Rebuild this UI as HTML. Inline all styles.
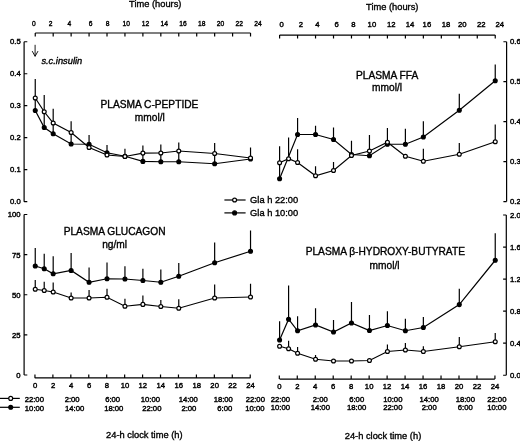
<!DOCTYPE html>
<html><head><meta charset="utf-8"><title>Plasma profiles</title>
<style>
html,body{margin:0;padding:0;background:#fff}
svg{display:block}
text{font-family:"Liberation Sans",Arial,sans-serif;fill:#000;stroke:#000;stroke-width:0.35px}
.tk text{stroke-width:0.42px}
</style></head><body>
<svg width="520" height="441" viewBox="0 0 520 441">
<rect width="520" height="441" fill="#fff"/>
<g stroke="#000" stroke-width="1.2" stroke-linecap="butt">
<line x1="35.25" y1="110.50" x2="35.25" y2="99.00"/>
<line x1="44.22" y1="127.50" x2="44.22" y2="112.75"/>
<line x1="53.19" y1="133.75" x2="53.19" y2="124.00"/>
<line x1="71.13" y1="144.00" x2="71.13" y2="133.50"/>
<line x1="142.89" y1="161.40" x2="142.89" y2="154.10"/>
<line x1="160.83" y1="161.75" x2="160.83" y2="154.00"/>
<line x1="178.77" y1="161.75" x2="178.77" y2="152.00"/>
<line x1="214.65" y1="163.75" x2="214.65" y2="154.50"/>
<polyline fill="none" points="35.25,110.50 44.22,127.50 53.19,133.75 71.13,144.00 89.07,144.25 107.01,152.75 124.95,156.25 142.89,161.40 160.83,161.75 178.77,161.75 214.65,163.75 250.53,159.00"/>
<circle cx="35.25" cy="110.50" r="1.95" fill="#000"/>
<circle cx="44.22" cy="127.50" r="1.95" fill="#000"/>
<circle cx="53.19" cy="133.75" r="1.95" fill="#000"/>
<circle cx="71.13" cy="144.00" r="1.95" fill="#000"/>
<circle cx="89.07" cy="144.25" r="1.95" fill="#000"/>
<circle cx="107.01" cy="152.75" r="1.95" fill="#000"/>
<circle cx="124.95" cy="156.25" r="1.95" fill="#000"/>
<circle cx="142.89" cy="161.40" r="1.95" fill="#000"/>
<circle cx="160.83" cy="161.75" r="1.95" fill="#000"/>
<circle cx="178.77" cy="161.75" r="1.95" fill="#000"/>
<circle cx="214.65" cy="163.75" r="1.95" fill="#000"/>
<circle cx="250.53" cy="159.00" r="1.95" fill="#000"/>
<line x1="35.25" y1="98.00" x2="35.25" y2="79.00"/>
<line x1="44.22" y1="111.75" x2="44.22" y2="95.00"/>
<line x1="53.19" y1="123.00" x2="53.19" y2="108.75"/>
<line x1="71.13" y1="132.50" x2="71.13" y2="121.25"/>
<line x1="89.07" y1="147.50" x2="89.07" y2="135.00"/>
<line x1="107.01" y1="155.00" x2="107.01" y2="145.00"/>
<line x1="124.95" y1="156.50" x2="124.95" y2="148.75"/>
<line x1="142.89" y1="153.10" x2="142.89" y2="145.50"/>
<line x1="160.83" y1="153.00" x2="160.83" y2="144.50"/>
<line x1="178.77" y1="151.00" x2="178.77" y2="142.50"/>
<line x1="214.65" y1="153.50" x2="214.65" y2="143.00"/>
<line x1="250.53" y1="158.00" x2="250.53" y2="147.50"/>
<polyline fill="none" points="35.25,98.00 44.22,111.75 53.19,123.00 71.13,132.50 89.07,147.50 107.01,155.00 124.95,156.50 142.89,153.10 160.83,153.00 178.77,151.00 214.65,153.50 250.53,158.00"/>
<circle cx="35.25" cy="98.00" r="1.95" fill="#fff"/>
<circle cx="44.22" cy="111.75" r="1.95" fill="#fff"/>
<circle cx="53.19" cy="123.00" r="1.95" fill="#fff"/>
<circle cx="71.13" cy="132.50" r="1.95" fill="#fff"/>
<circle cx="89.07" cy="147.50" r="1.95" fill="#fff"/>
<circle cx="107.01" cy="155.00" r="1.95" fill="#fff"/>
<circle cx="124.95" cy="156.50" r="1.95" fill="#fff"/>
<circle cx="142.89" cy="153.10" r="1.95" fill="#fff"/>
<circle cx="160.83" cy="153.00" r="1.95" fill="#fff"/>
<circle cx="178.77" cy="151.00" r="1.95" fill="#fff"/>
<circle cx="214.65" cy="153.50" r="1.95" fill="#fff"/>
<circle cx="250.53" cy="158.00" r="1.95" fill="#fff"/>
<line x1="35.25" y1="266.00" x2="35.25" y2="248.00"/>
<line x1="44.22" y1="268.75" x2="44.22" y2="253.75"/>
<line x1="53.19" y1="273.75" x2="53.19" y2="256.25"/>
<line x1="71.13" y1="270.50" x2="71.13" y2="253.00"/>
<line x1="89.07" y1="282.25" x2="89.07" y2="267.50"/>
<line x1="107.01" y1="278.75" x2="107.01" y2="262.50"/>
<line x1="124.95" y1="279.00" x2="124.95" y2="266.25"/>
<line x1="142.89" y1="280.50" x2="142.89" y2="268.75"/>
<line x1="160.83" y1="282.25" x2="160.83" y2="269.50"/>
<line x1="178.77" y1="276.25" x2="178.77" y2="263.00"/>
<line x1="214.65" y1="262.75" x2="214.65" y2="242.50"/>
<line x1="250.53" y1="251.25" x2="250.53" y2="230.50"/>
<polyline fill="none" points="35.25,266.00 44.22,268.75 53.19,273.75 71.13,270.50 89.07,282.25 107.01,278.75 124.95,279.00 142.89,280.50 160.83,282.25 178.77,276.25 214.65,262.75 250.53,251.25"/>
<circle cx="35.25" cy="266.00" r="1.95" fill="#000"/>
<circle cx="44.22" cy="268.75" r="1.95" fill="#000"/>
<circle cx="53.19" cy="273.75" r="1.95" fill="#000"/>
<circle cx="71.13" cy="270.50" r="1.95" fill="#000"/>
<circle cx="89.07" cy="282.25" r="1.95" fill="#000"/>
<circle cx="107.01" cy="278.75" r="1.95" fill="#000"/>
<circle cx="124.95" cy="279.00" r="1.95" fill="#000"/>
<circle cx="142.89" cy="280.50" r="1.95" fill="#000"/>
<circle cx="160.83" cy="282.25" r="1.95" fill="#000"/>
<circle cx="178.77" cy="276.25" r="1.95" fill="#000"/>
<circle cx="214.65" cy="262.75" r="1.95" fill="#000"/>
<circle cx="250.53" cy="251.25" r="1.95" fill="#000"/>
<line x1="35.25" y1="289.25" x2="35.25" y2="280.00"/>
<line x1="44.22" y1="290.50" x2="44.22" y2="281.75"/>
<line x1="53.19" y1="292.00" x2="53.19" y2="282.50"/>
<line x1="71.13" y1="298.00" x2="71.13" y2="292.50"/>
<line x1="89.07" y1="298.00" x2="89.07" y2="290.00"/>
<line x1="107.01" y1="297.25" x2="107.01" y2="288.75"/>
<line x1="124.95" y1="306.25" x2="124.95" y2="298.75"/>
<line x1="142.89" y1="304.40" x2="142.89" y2="295.60"/>
<line x1="160.83" y1="306.50" x2="160.83" y2="300.00"/>
<line x1="178.77" y1="308.25" x2="178.77" y2="299.25"/>
<line x1="214.65" y1="298.00" x2="214.65" y2="284.50"/>
<line x1="250.53" y1="297.00" x2="250.53" y2="283.75"/>
<polyline fill="none" points="35.25,289.25 44.22,290.50 53.19,292.00 71.13,298.00 89.07,298.00 107.01,297.25 124.95,306.25 142.89,304.40 160.83,306.50 178.77,308.25 214.65,298.00 250.53,297.00"/>
<circle cx="35.25" cy="289.25" r="1.95" fill="#fff"/>
<circle cx="44.22" cy="290.50" r="1.95" fill="#fff"/>
<circle cx="53.19" cy="292.00" r="1.95" fill="#fff"/>
<circle cx="71.13" cy="298.00" r="1.95" fill="#fff"/>
<circle cx="89.07" cy="298.00" r="1.95" fill="#fff"/>
<circle cx="107.01" cy="297.25" r="1.95" fill="#fff"/>
<circle cx="124.95" cy="306.25" r="1.95" fill="#fff"/>
<circle cx="142.89" cy="304.40" r="1.95" fill="#fff"/>
<circle cx="160.83" cy="306.50" r="1.95" fill="#fff"/>
<circle cx="178.77" cy="308.25" r="1.95" fill="#fff"/>
<circle cx="214.65" cy="298.00" r="1.95" fill="#fff"/>
<circle cx="250.53" cy="297.00" r="1.95" fill="#fff"/>
<line x1="279.60" y1="178.75" x2="279.60" y2="163.00"/>
<line x1="297.57" y1="134.50" x2="297.57" y2="118.00"/>
<line x1="315.54" y1="134.50" x2="315.54" y2="125.75"/>
<line x1="333.51" y1="139.50" x2="333.51" y2="127.50"/>
<line x1="351.48" y1="154.50" x2="351.48" y2="140.75"/>
<line x1="369.45" y1="155.75" x2="369.45" y2="135.00"/>
<line x1="387.42" y1="144.25" x2="387.42" y2="128.00"/>
<line x1="405.39" y1="144.25" x2="405.39" y2="128.75"/>
<line x1="423.36" y1="137.00" x2="423.36" y2="121.25"/>
<line x1="459.30" y1="110.25" x2="459.30" y2="93.75"/>
<line x1="495.24" y1="80.75" x2="495.24" y2="64.50"/>
<polyline fill="none" points="279.60,178.75 297.57,134.50 315.54,134.50 333.51,139.50 351.48,154.50 369.45,155.75 387.42,144.25 405.39,144.25 423.36,137.00 459.30,110.25 495.24,80.75"/>
<circle cx="279.60" cy="178.75" r="1.95" fill="#000"/>
<circle cx="297.57" cy="134.50" r="1.95" fill="#000"/>
<circle cx="315.54" cy="134.50" r="1.95" fill="#000"/>
<circle cx="333.51" cy="139.50" r="1.95" fill="#000"/>
<circle cx="351.48" cy="154.50" r="1.95" fill="#000"/>
<circle cx="369.45" cy="155.75" r="1.95" fill="#000"/>
<circle cx="387.42" cy="144.25" r="1.95" fill="#000"/>
<circle cx="405.39" cy="144.25" r="1.95" fill="#000"/>
<circle cx="423.36" cy="137.00" r="1.95" fill="#000"/>
<circle cx="459.30" cy="110.25" r="1.95" fill="#000"/>
<circle cx="495.24" cy="80.75" r="1.95" fill="#000"/>
<line x1="279.60" y1="162.75" x2="279.60" y2="146.25"/>
<line x1="288.59" y1="158.75" x2="288.59" y2="137.50"/>
<line x1="297.57" y1="162.50" x2="297.57" y2="149.25"/>
<line x1="315.54" y1="175.75" x2="315.54" y2="166.25"/>
<line x1="333.51" y1="170.50" x2="333.51" y2="162.00"/>
<line x1="423.36" y1="161.25" x2="423.36" y2="148.75"/>
<line x1="459.30" y1="154.25" x2="459.30" y2="143.00"/>
<line x1="495.24" y1="141.75" x2="495.24" y2="124.50"/>
<polyline fill="none" points="279.60,162.75 288.59,158.75 297.57,162.50 315.54,175.75 333.51,170.50 351.48,155.50 369.45,151.00 387.42,142.25 405.39,156.25 423.36,161.25 459.30,154.25 495.24,141.75"/>
<circle cx="279.60" cy="162.75" r="1.95" fill="#fff"/>
<circle cx="288.59" cy="158.75" r="1.95" fill="#fff"/>
<circle cx="297.57" cy="162.50" r="1.95" fill="#fff"/>
<circle cx="315.54" cy="175.75" r="1.95" fill="#fff"/>
<circle cx="333.51" cy="170.50" r="1.95" fill="#fff"/>
<circle cx="351.48" cy="155.50" r="1.95" fill="#fff"/>
<circle cx="369.45" cy="151.00" r="1.95" fill="#fff"/>
<circle cx="387.42" cy="142.25" r="1.95" fill="#fff"/>
<circle cx="405.39" cy="156.25" r="1.95" fill="#fff"/>
<circle cx="423.36" cy="161.25" r="1.95" fill="#fff"/>
<circle cx="459.30" cy="154.25" r="1.95" fill="#fff"/>
<circle cx="495.24" cy="141.75" r="1.95" fill="#fff"/>
<line x1="279.60" y1="340.00" x2="279.60" y2="321.25"/>
<line x1="288.59" y1="319.25" x2="288.59" y2="285.50"/>
<line x1="297.57" y1="330.75" x2="297.57" y2="316.25"/>
<line x1="315.54" y1="325.00" x2="315.54" y2="308.25"/>
<line x1="333.51" y1="332.00" x2="333.51" y2="320.00"/>
<line x1="351.48" y1="323.00" x2="351.48" y2="302.00"/>
<line x1="369.45" y1="330.50" x2="369.45" y2="315.00"/>
<line x1="387.42" y1="325.50" x2="387.42" y2="311.25"/>
<line x1="405.39" y1="330.75" x2="405.39" y2="318.75"/>
<line x1="423.36" y1="327.50" x2="423.36" y2="317.00"/>
<line x1="459.30" y1="304.60" x2="459.30" y2="288.75"/>
<line x1="495.24" y1="260.25" x2="495.24" y2="233.25"/>
<polyline fill="none" points="279.60,340.00 288.59,319.25 297.57,330.75 315.54,325.00 333.51,332.00 351.48,323.00 369.45,330.50 387.42,325.50 405.39,330.75 423.36,327.50 459.30,304.60 495.24,260.25"/>
<circle cx="279.60" cy="340.00" r="1.95" fill="#000"/>
<circle cx="288.59" cy="319.25" r="1.95" fill="#000"/>
<circle cx="297.57" cy="330.75" r="1.95" fill="#000"/>
<circle cx="315.54" cy="325.00" r="1.95" fill="#000"/>
<circle cx="333.51" cy="332.00" r="1.95" fill="#000"/>
<circle cx="351.48" cy="323.00" r="1.95" fill="#000"/>
<circle cx="369.45" cy="330.50" r="1.95" fill="#000"/>
<circle cx="387.42" cy="325.50" r="1.95" fill="#000"/>
<circle cx="405.39" cy="330.75" r="1.95" fill="#000"/>
<circle cx="423.36" cy="327.50" r="1.95" fill="#000"/>
<circle cx="459.30" cy="304.60" r="1.95" fill="#000"/>
<circle cx="495.24" cy="260.25" r="1.95" fill="#000"/>
<line x1="288.59" y1="348.75" x2="288.59" y2="340.75"/>
<line x1="297.57" y1="353.25" x2="297.57" y2="347.00"/>
<line x1="315.54" y1="359.25" x2="315.54" y2="355.00"/>
<line x1="387.42" y1="351.50" x2="387.42" y2="344.50"/>
<line x1="405.39" y1="350.00" x2="405.39" y2="343.00"/>
<line x1="423.36" y1="351.50" x2="423.36" y2="346.25"/>
<line x1="459.30" y1="346.75" x2="459.30" y2="337.00"/>
<line x1="495.24" y1="341.75" x2="495.24" y2="333.00"/>
<polyline fill="none" points="279.60,346.25 288.59,348.75 297.57,353.25 315.54,359.25 333.51,361.00 351.48,361.00 369.45,360.50 387.42,351.50 405.39,350.00 423.36,351.50 459.30,346.75 495.24,341.75"/>
<circle cx="279.60" cy="346.25" r="1.95" fill="#fff"/>
<circle cx="288.59" cy="348.75" r="1.95" fill="#fff"/>
<circle cx="297.57" cy="353.25" r="1.95" fill="#fff"/>
<circle cx="315.54" cy="359.25" r="1.95" fill="#fff"/>
<circle cx="333.51" cy="361.00" r="1.95" fill="#fff"/>
<circle cx="351.48" cy="361.00" r="1.95" fill="#fff"/>
<circle cx="369.45" cy="360.50" r="1.95" fill="#fff"/>
<circle cx="387.42" cy="351.50" r="1.95" fill="#fff"/>
<circle cx="405.39" cy="350.00" r="1.95" fill="#fff"/>
<circle cx="423.36" cy="351.50" r="1.95" fill="#fff"/>
<circle cx="459.30" cy="346.75" r="1.95" fill="#fff"/>
<circle cx="495.24" cy="341.75" r="1.95" fill="#fff"/>
<path fill="none" d="M35.25 33.0H250.53M35.25 33.0v3.4M53.19 33.0v3.4M71.13 33.0v3.4M89.07 33.0v3.4M107.01 33.0v3.4M124.95 33.0v3.4M142.89 33.0v3.4M160.83 33.0v3.4M178.77 33.0v3.4M196.71 33.0v3.4M214.65 33.0v3.4M232.59 33.0v3.4M250.53 33.0v3.4"/>
<path fill="none" d="M279.60 35.1H495.24M279.60 35.1v3.4M297.57 35.1v3.4M315.54 35.1v3.4M333.51 35.1v3.4M351.48 35.1v3.4M369.45 35.1v3.4M387.42 35.1v3.4M405.39 35.1v3.4M423.36 35.1v3.4M441.33 35.1v3.4M459.30 35.1v3.4M477.27 35.1v3.4M495.24 35.1v3.4"/>
<path fill="none" d="M34.75 377.9H250.53M34.95 377.9v-3.4M52.89 377.9v-3.4M70.83 377.9v-3.4M88.77 377.9v-3.4M106.71 377.9v-3.4M124.65 377.9v-3.4M142.59 377.9v-3.4M160.53 377.9v-3.4M178.47 377.9v-3.4M196.41 377.9v-3.4M214.35 377.9v-3.4M232.29 377.9v-3.4M250.23 377.9v-3.4"/>
<path fill="none" d="M279.60 379.1H494.84M279.30 379.1v-3.6M297.27 379.1v-3.6M315.24 379.1v-3.6M333.21 379.1v-3.6M351.18 379.1v-3.6M369.15 379.1v-3.6M387.12 379.1v-3.6M405.09 379.1v-3.6M423.06 379.1v-3.6M441.03 379.1v-3.6M459.00 379.1v-3.6M476.97 379.1v-3.6M494.94 379.1v-3.6"/>
<path fill="none" d="M24.1 41.75V201.65M24.1 41.75h3.2M24.1 73.73h3.2M24.1 105.71000000000001h3.2M24.1 137.69h3.2M24.1 169.67000000000002h3.2M24.1 201.65h3.2"/>
<path fill="none" d="M24.1 214.5V375.0M24.1 214.5h3.2M24.1 254.625h3.2M24.1 294.75h3.2M24.1 334.875h3.2M24.1 375.0h3.2"/>
<path fill="none" d="M506.6 41.75V201.55M506.6 41.75h-3.2M506.6 81.7h-3.2M506.6 121.65h-3.2M506.6 161.60000000000002h-3.2M506.6 201.55h-3.2"/>
<path fill="none" d="M506.3 215.0V375.25M506.3 215.0h-3.2M506.3 247.05h-3.2M506.3 279.1h-3.2M506.3 311.15h-3.2M506.3 343.2h-3.2M506.3 375.25h-3.2"/>
<path fill="none" stroke-width="0.9" d="M35.1 44.8V56.3 M32.2 51.1L35.1 56.3L38 51.1"/>
<line x1="224.4" y1="200" x2="245.6" y2="200"/><circle cx="234.6" cy="200" r="1.95" fill="#fff"/>
<line x1="224.4" y1="212.9" x2="245.6" y2="212.9"/><circle cx="234.6" cy="212.9" r="1.95" fill="#000"/>
<line x1="0" y1="398.4" x2="19.8" y2="398.4"/><circle cx="10.7" cy="398.4" r="1.95" fill="#fff"/>
<line x1="0" y1="407.3" x2="19.8" y2="407.3"/><circle cx="10.7" cy="407.3" r="1.95" fill="#000"/>
</g>
<g font-size="7.7" class="tk" text-anchor="middle">
<text transform="translate(33.75 25.8) scale(0.87 1)">0</text>
<text x="281.70" y="27">0</text>
<text x="35.25" y="388.4">0</text>
<text x="279.30" y="389.3">0</text>
<text transform="translate(50.50 25.8) scale(0.87 1)">2</text>
<text x="300.90" y="27">2</text>
<text x="53.19" y="388.4">2</text>
<text x="297.27" y="389.3">2</text>
<text transform="translate(69.25 25.8) scale(0.87 1)">4</text>
<text x="317.50" y="27">4</text>
<text x="71.13" y="388.4">4</text>
<text x="315.24" y="389.3">4</text>
<text transform="translate(90.50 25.8) scale(0.87 1)">6</text>
<text x="336.70" y="27">6</text>
<text x="89.07" y="388.4">6</text>
<text x="333.21" y="389.3">6</text>
<text transform="translate(107.50 25.8) scale(0.87 1)">8</text>
<text x="353.50" y="27">8</text>
<text x="107.01" y="388.4">8</text>
<text x="351.18" y="389.3">8</text>
<text transform="translate(126.25 25.8) scale(0.87 1)">10</text>
<text x="371.90" y="27">10</text>
<text x="124.95" y="388.4">10</text>
<text x="369.15" y="389.3">10</text>
<text transform="translate(145.50 25.8) scale(0.87 1)">12</text>
<text x="391.20" y="27">12</text>
<text x="142.89" y="388.4">12</text>
<text x="387.12" y="389.3">12</text>
<text transform="translate(164.25 25.8) scale(0.87 1)">14</text>
<text x="410.00" y="27">14</text>
<text x="160.83" y="388.4">14</text>
<text x="405.09" y="389.3">14</text>
<text transform="translate(183.00 25.8) scale(0.87 1)">16</text>
<text x="426.90" y="27">16</text>
<text x="178.77" y="388.4">16</text>
<text x="423.06" y="389.3">16</text>
<text transform="translate(201.75 25.8) scale(0.87 1)">18</text>
<text x="446.00" y="27">18</text>
<text x="196.71" y="388.4">18</text>
<text x="441.03" y="389.3">18</text>
<text transform="translate(220.50 25.8) scale(0.87 1)">20</text>
<text x="462.30" y="27">20</text>
<text x="214.65" y="388.4">20</text>
<text x="459.00" y="389.3">20</text>
<text transform="translate(239.25 25.8) scale(0.87 1)">22</text>
<text x="481.20" y="27">22</text>
<text x="232.59" y="388.4">22</text>
<text x="476.97" y="389.3">22</text>
<text transform="translate(258.00 25.8) scale(0.87 1)">24</text>
<text x="499.80" y="27">24</text>
<text x="250.53" y="388.4">24</text>
<text x="494.94" y="389.3">24</text>
</g>
<g font-size="7.7" class="tk" text-anchor="start">
<text x="24.70" y="402.1">22:00</text>
<text x="64.70" y="402.1">2:00</text>
<text x="105.20" y="402.1">6:00</text>
<text x="140.75" y="402.1">10:00</text>
<text x="178.65" y="402.1">14:00</text>
<text x="213.65" y="402.1">18:00</text>
<text x="245.70" y="402.1">22:00</text>
<text x="24.85" y="411">10:00</text>
<text x="65.05" y="411">14:00</text>
<text x="104.15" y="411">18:00</text>
<text x="142.20" y="411">22:00</text>
<text x="181.40" y="411">2:00</text>
<text x="217.30" y="411">6:00</text>
<text x="245.25" y="411">10:00</text>
</g>
<g font-size="7.7" class="tk" text-anchor="end">
<text x="20.7" y="44.05">0.5</text>
<text x="20.7" y="76.03">0.4</text>
<text x="20.7" y="108.01">0.3</text>
<text x="20.7" y="139.99">0.2</text>
<text x="20.7" y="171.97">0.1</text>
<text x="20.7" y="203.95">0.0</text>
<text x="20.6" y="217.40">100</text>
<text x="20.6" y="257.52">75</text>
<text x="20.6" y="297.65">50</text>
<text x="20.6" y="337.77">25</text>
<text x="20.6" y="377.90">0</text>
</g>
<g font-size="7.7" class="tk" text-anchor="start">
<text x="510.1" y="44.35">0.6</text>
<text x="510.1" y="84.30">0.5</text>
<text x="510.1" y="124.25">0.4</text>
<text x="510.1" y="164.20">0.3</text>
<text x="510.1" y="204.15">0.2</text>
<text x="510.1" y="217.60">2.0</text>
<text x="510.1" y="249.65">1.6</text>
<text x="510.1" y="281.70">1.2</text>
<text x="510.1" y="313.75">0.8</text>
<text x="510.1" y="345.80">0.4</text>
<text x="510.1" y="377.85">0.0</text>
</g>
<g font-size="9.3" text-anchor="middle">
<text x="155.3" y="7">Time (hours)</text>
<text x="392.3" y="10.4">Time (hours)</text>
<text x="144.3" y="438.3">24-h clock time (h)</text>
<text x="383" y="438.5">24-h clock time (h)</text>
</g>
<g font-size="10.2" text-anchor="middle">
<text x="149.4" y="108">PLASMA C-PEPTIDE</text><text x="149.8" y="120.5">mmol/l</text>
<text x="387.1" y="79.3">PLASMA FFA</text><text x="387.1" y="91.3">mmol/l</text>
<text x="114.6" y="235">PLASMA GLUCAGON</text><text x="114.6" y="247.5">ng/ml</text>
<text x="385.3" y="254.8">PLASMA β-HYDROXY-BUTYRATE</text><text x="384.5" y="268.6">mmol/l</text>
</g>
<g font-size="9.3"><text x="250.1" y="203.3">Gla h 22:00</text><text x="250.1" y="216.2">Gla h 10:00</text>
<text x="41.4" y="63.9" font-style="italic">s.c.insulin</text></g>
<g font-size="7.7" class="tk" text-anchor="middle">
<text x="280.4" y="401.6">22:00</text><text x="280.4" y="410.1">10:00</text>
<text x="320.3" y="401.6">2:00</text><text x="320.3" y="410.1">14:00</text>
<text x="356.7" y="401.6">6:00</text><text x="356.7" y="410.1">18:00</text>
<text x="392.8" y="401.6">10:00</text><text x="392.8" y="410.1">22:00</text>
<text x="429.2" y="401.6">14:00</text><text x="429.2" y="410.1">2:00</text>
<text x="465.3" y="401.6">18:00</text><text x="465.3" y="410.1">6:00</text>
<text x="496.8" y="401.6">22:00</text><text x="496.8" y="410.1">10:00</text>
</g>
</svg>
</body></html>
